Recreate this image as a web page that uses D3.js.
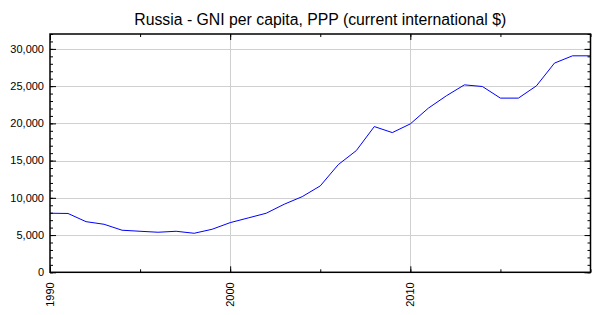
<!DOCTYPE html>
<html><head><meta charset="utf-8">
<script src="https://cdn.jsdelivr.net/npm/d3@7"></script>
<style>body{margin:0;background:#fff}svg{display:block}</style>
</head><body><svg id="c" width="600" height="315"></svg>
<script>
const years = [1990,1991,1992,1993,1994,1995,1996,1997,1998,1999,2000,2001,2002,2003,2004,2005,2006,2007,2008,2009,2010,2011,2012,2013,2014,2015,2016,2017,2018,2019,2020];
const values = [7930,7900,6800,6450,5650,5510,5380,5510,5240,5780,6670,7300,7930,9140,10160,11600,14460,16340,19570,18760,19930,22040,23700,25170,24950,23390,23390,25040,28090,29070,29070];
const yTicks = [0,5000,10000,15000,20000,25000,30000];
const xTicks = [1990,2000,2010];
const title = "Russia - GNI per capita, PPP (current international $)";

const svg = d3.select("#c");
const L=50, R=590.5, T=34, B=272.3;
const x = d3.scaleLinear().domain([1990,2020]).range([L,R]);
const y = d3.scaleLinear().domain([0,32000]).range([B,T]);
const font = "'Liberation Sans', Arial, sans-serif";

// grid
svg.append("g").selectAll("line").data(yTicks.filter(d=>d>0)).join("line")
  .attr("x1",L).attr("x2",R).attr("y1",d=>Math.round(y(d))+0.5).attr("y2",d=>Math.round(y(d))+0.5)
  .attr("stroke","#d0d0d0").attr("stroke-width",1);
svg.append("g").selectAll("line").data(xTicks.filter(d=>d>1990)).join("line")
  .attr("y1",T).attr("y2",B).attr("x1",d=>Math.round(x(d))+0.5).attr("x2",d=>Math.round(x(d))+0.5)
  .attr("stroke","#d0d0d0").attr("stroke-width",1);

// line
svg.append("path").datum(years.map((d,i)=>[d,values[i]]))
  .attr("fill","none").attr("stroke","#0000ff").attr("stroke-width",1)
  .attr("d",d3.line().x(d=>x(d[0])).y(d=>y(d[1])));

// axes with inward ticks
const minorY = d3.range(0,32001,1000);
const minorX = d3.range(1990,2021,5);
const ax = (sel)=>sel.selectAll("path").remove();
svg.append("g").attr("transform",`translate(${L},0)`)
  .call(d3.axisRight(y).tickValues(minorY).tickSize(3).tickFormat("")).call(ax)
  .selectAll("line").attr("stroke","#000");
svg.append("g").attr("transform",`translate(${L},0)`)
  .call(d3.axisRight(y).tickValues(yTicks).tickSize(6).tickFormat("")).call(ax)
  .selectAll("line").attr("stroke","#000");
svg.append("g").attr("transform",`translate(${R},0)`)
  .call(d3.axisLeft(y).tickValues(minorY).tickSize(3).tickFormat("")).call(ax)
  .selectAll("line").attr("stroke","#000");
svg.append("g").attr("transform",`translate(${R},0)`)
  .call(d3.axisLeft(y).tickValues(yTicks).tickSize(6).tickFormat("")).call(ax)
  .selectAll("line").attr("stroke","#000");
svg.append("g").attr("transform",`translate(0,${B})`)
  .call(d3.axisTop(x).tickValues(minorX).tickSize(3).tickFormat("")).call(ax)
  .selectAll("line").attr("stroke","#000");
svg.append("g").attr("transform",`translate(0,${B})`)
  .call(d3.axisTop(x).tickValues(xTicks).tickSize(6).tickFormat("")).call(ax)
  .selectAll("line").attr("stroke","#000");
svg.append("g").attr("transform",`translate(0,${T})`)
  .call(d3.axisBottom(x).tickValues(minorX).tickSize(3).tickFormat("")).call(ax)
  .selectAll("line").attr("stroke","#000");
svg.append("g").attr("transform",`translate(0,${T})`)
  .call(d3.axisBottom(x).tickValues(xTicks).tickSize(6).tickFormat("")).call(ax)
  .selectAll("line").attr("stroke","#000");

// frame
svg.append("rect").attr("x",L).attr("y",T).attr("width",R-L).attr("height",B-T)
  .attr("fill","none").attr("stroke","#000").attr("stroke-width",1.5);

// y labels
svg.append("g").selectAll("text").data(yTicks).join("text")
  .attr("x",L-6).attr("y",d=>y(d)).attr("dy","0.35em").attr("text-anchor","end")
  .attr("font-family",font).attr("font-size",11).attr("fill","#000")
  .text(d=>d3.format(",")(d));

// x labels rotated
svg.append("g").selectAll("text").data(xTicks).join("text")
  .attr("transform",d=>`translate(${x(d)},${B+10}) rotate(-90)`)
  .attr("text-anchor","end").attr("dy","0.35em")
  .attr("font-family",font).attr("font-size",11).attr("fill","#000")
  .text(d=>d);

// title
svg.append("text").attr("x",(L+R)/2).attr("y",24.5).attr("text-anchor","middle")
  .attr("font-family",font).attr("font-size",15.8).attr("fill","#000").text(title);
</script></body></html>
